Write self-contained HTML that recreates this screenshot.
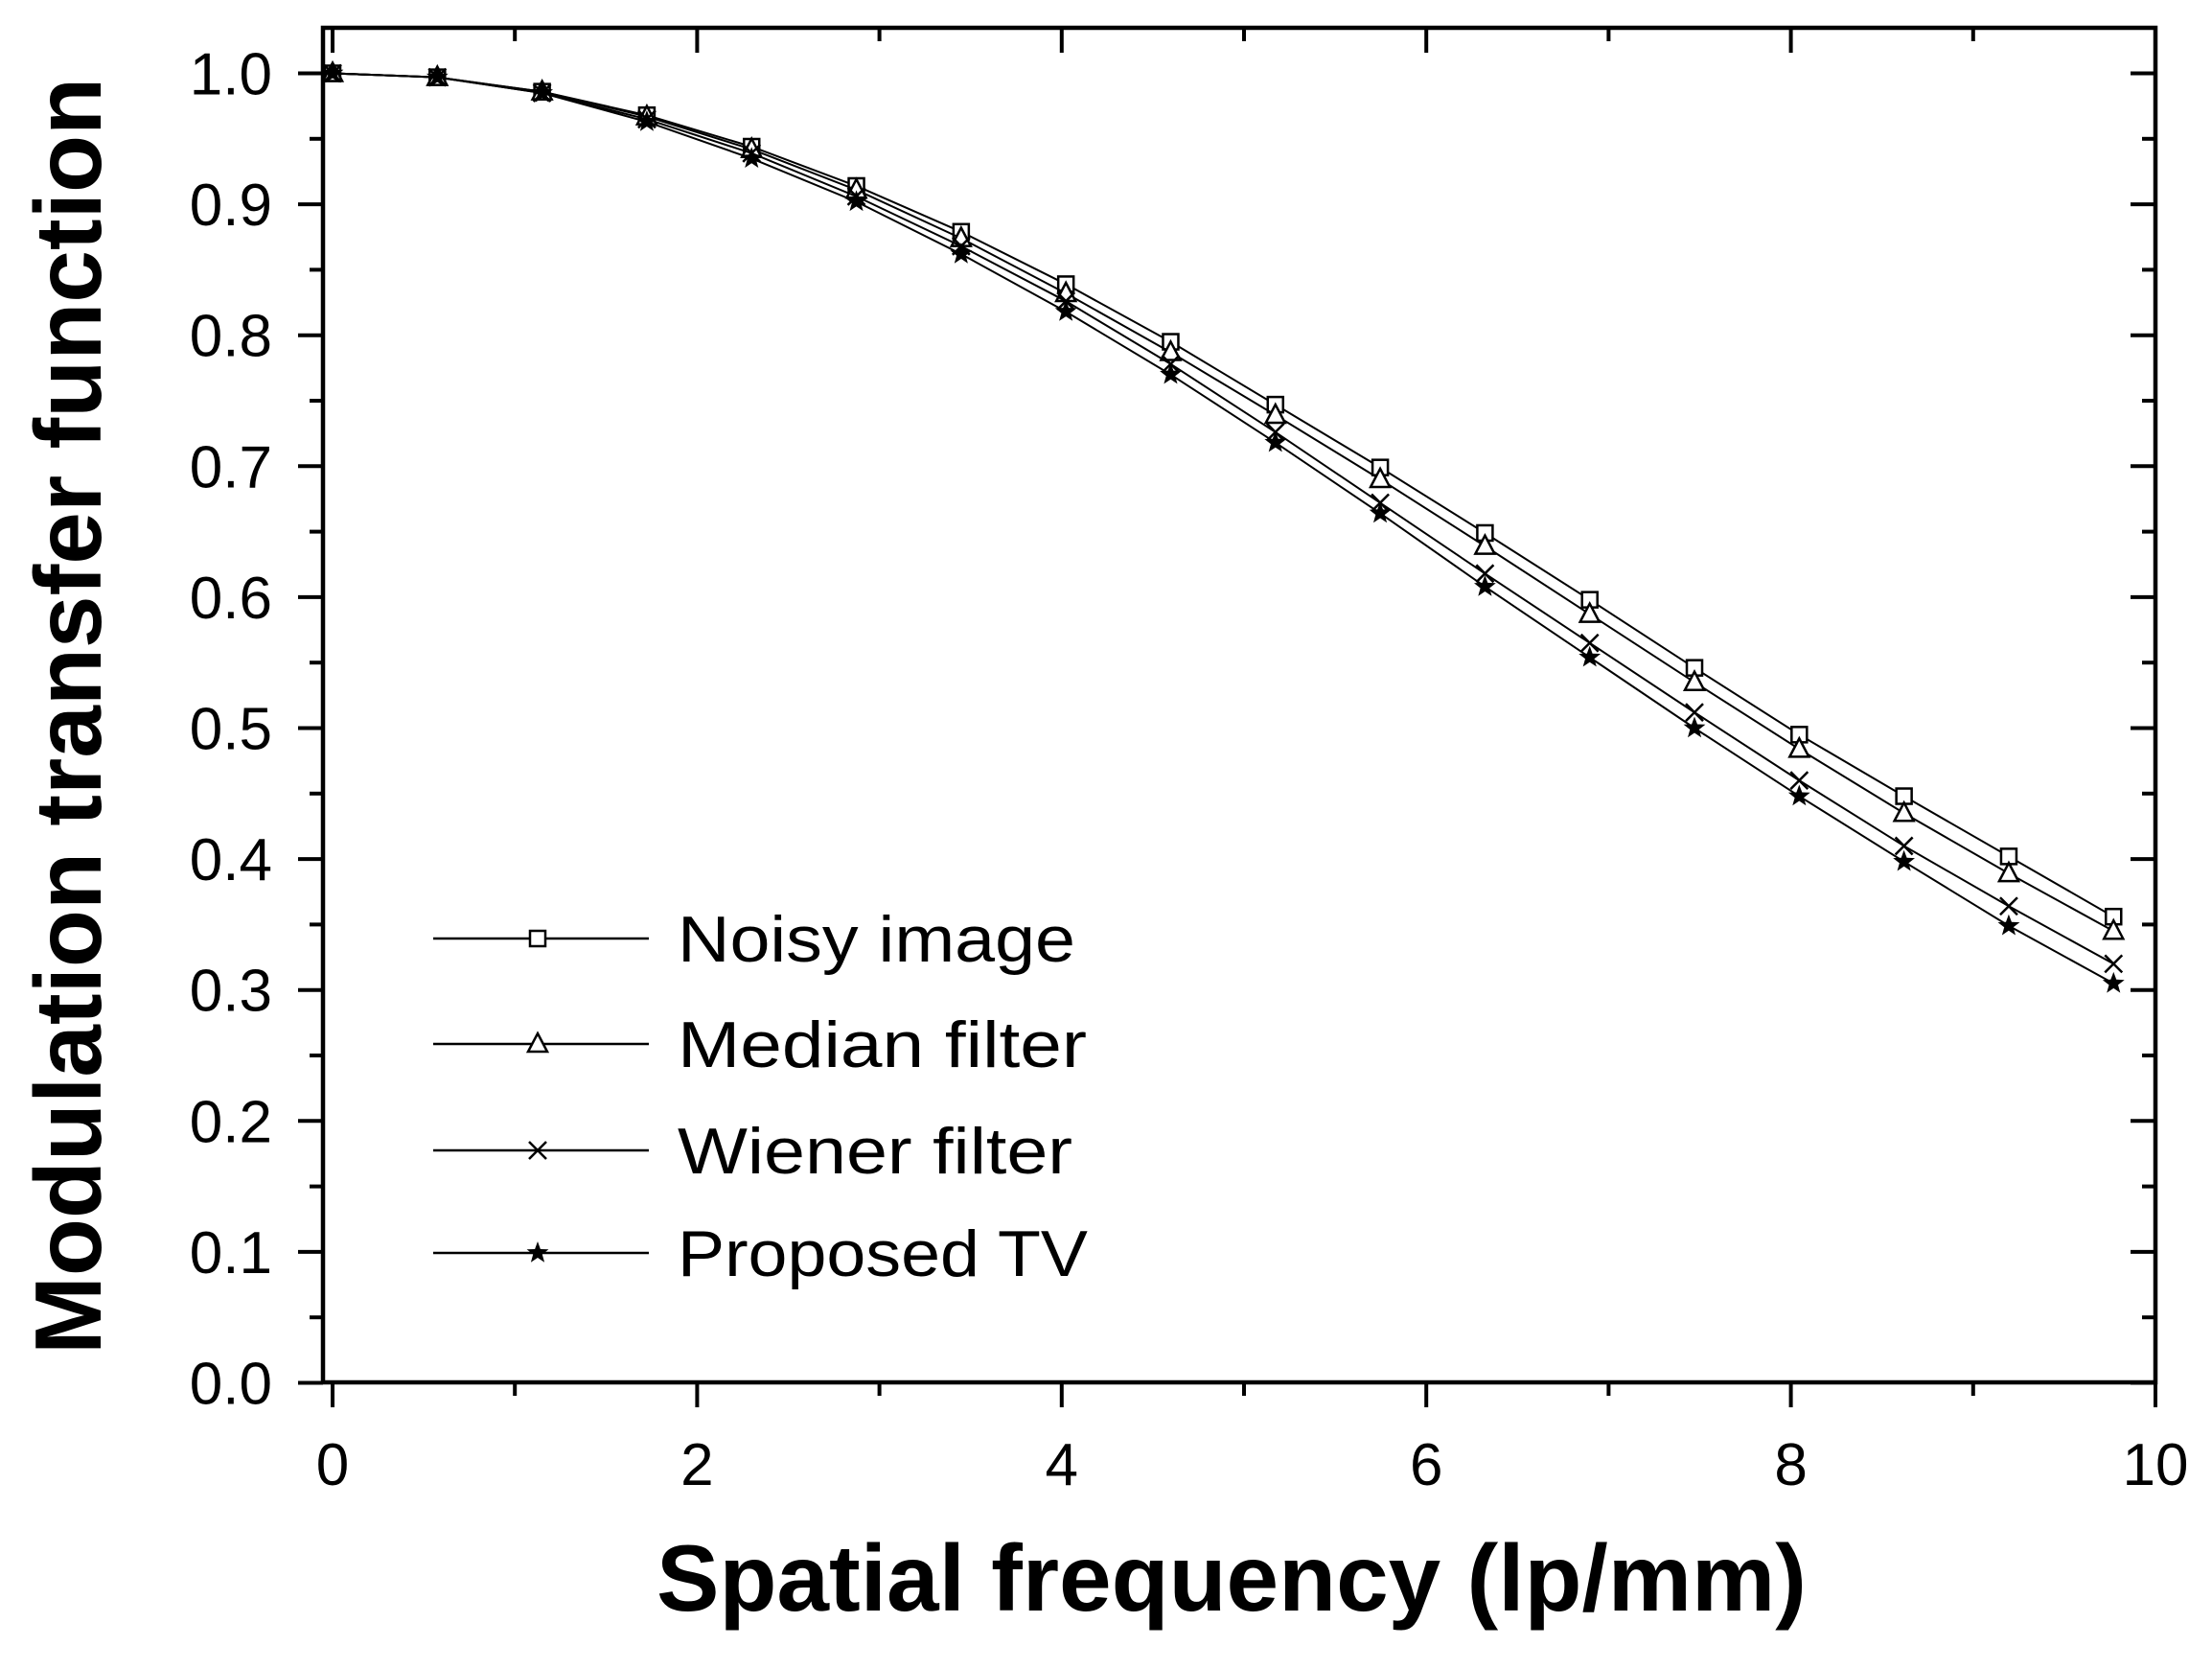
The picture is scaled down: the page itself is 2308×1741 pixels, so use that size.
<!DOCTYPE html>
<html><head><meta charset="utf-8"><style>html,body{margin:0;padding:0;background:#fff}svg{display:block}</style></head>
<body>
<svg id="s" width="2308" height="1741" xmlns="http://www.w3.org/2000/svg" font-family="Liberation Sans, DejaVu Sans, sans-serif">
<rect width="2308" height="1741" fill="#fff"/>
<g id="g"></g>
<text x="1285" y="1680" font-size="98" font-weight="bold" text-anchor="middle" textLength="1200" lengthAdjust="spacingAndGlyphs">Spatial frequency (lp/mm)</text>
<text transform="translate(105,747) rotate(-90)" font-size="98" font-weight="bold" text-anchor="middle" textLength="1332" lengthAdjust="spacingAndGlyphs">Modulation transfer function</text>
</svg>
<script>
var g=document.getElementById('g'),NS='http://www.w3.org/2000/svg',h='';
function X(v){return 347+v*190.2}function Y(v){return 1442.5-v*1366}
var L=337,R=2249,T=29,B=1442;
// ticks
for(var i=0;i<=10;i++){var x=X(i),M=i%2==0,l=M?26:14;
h+='<line x1="'+x+'" y1="'+B+'" x2="'+x+'" y2="'+(B+l)+'" stroke="#000" stroke-width="4"/>';
h+='<line x1="'+x+'" y1="'+T+'" x2="'+x+'" y2="'+(T+l)+'" stroke="#000" stroke-width="4"/>';
if(M)h+='<text x="'+x+'" y="1549" font-size="62" text-anchor="middle">'+i+'</text>';}
for(var j=0;j<=20;j++){var v=j*0.05,y=Y(v),M=j%2==0,l=M?26:14;
h+='<line x1="'+L+'" y1="'+y+'" x2="'+(L-l)+'" y2="'+y+'" stroke="#000" stroke-width="4"/>';
h+='<line x1="'+R+'" y1="'+y+'" x2="'+(R-l)+'" y2="'+y+'" stroke="#000" stroke-width="4"/>';
if(M)h+='<text x="284" y="'+(y+22)+'" font-size="62" text-anchor="end">'+v.toFixed(1)+'</text>';}
h+='<rect x="'+L+'" y="'+T+'" width="'+(R-L)+'" height="'+(B-T)+'" fill="none" stroke="#000" stroke-width="4.5"/>';
var d=[
[1,.997,.986,.968,.944,.914,.879,.839,.795,.747,.699,.649,.598,.546,.495,.448,.402,.356],
[1,.997,.986,.967,.942,.911,.874,.832,.787,.739,.690,.639,.587,.535,.484,.435,.389,.345],
[1,.997,.985,.965,.939,.906,.868,.826,.778,.726,.672,.618,.565,.512,.460,.410,.364,.320],
[1,.997,.985,.963,.935,.902,.862,.818,.770,.718,.664,.608,.554,.500,.448,.398,.349,.305]];
function mk(t,x,y){
if(t==0)return '<rect x="'+(x-8)+'" y="'+(y-8)+'" width="16" height="16" fill="#fff" stroke="#000" stroke-width="2.5"/>';
if(t==1)return '<polygon points="'+x+','+(y-11)+' '+(x+10)+','+(y+8)+' '+(x-10)+','+(y+8)+'" fill="#fff" stroke="#000" stroke-width="2.5"/>';
if(t==2)return '<path d="M'+(x-9)+' '+(y-9)+'L'+(x+9)+' '+(y+9)+'M'+(x-9)+' '+(y+9)+'L'+(x+9)+' '+(y-9)+'" stroke="#000" stroke-width="2.5"/>';
var p=[];for(var k=0;k<10;k++){var r=k%2?5:12,a=-Math.PI/2+k*Math.PI/5;p.push((x+r*Math.cos(a)).toFixed(1)+','+(y+r*Math.sin(a)).toFixed(1));}
return '<polygon points="'+p.join(' ')+'" fill="#000"/>';}
for(var s=0;s<4;s++){var pts=[];for(var k=0;k<18;k++)pts.push(X(k*9.77/17)+','+Y(d[s][k]));
h+='<polyline points="'+pts.join(' ')+'" fill="none" stroke="#000" stroke-width="2"/>';
for(var k=0;k<18;k++)h+=mk(s,X(k*9.77/17),Y(d[s][k]));}
var names=['Noisy image','Median filter','Wiener filter','Proposed TV'],ly=[979,1089,1200,1307],tw=[415,427,412,428];
for(var s=0;s<4;s++){h+='<line x1="452" y1="'+ly[s]+'" x2="677" y2="'+ly[s]+'" stroke="#000" stroke-width="2.5"/>'+mk(s,561,ly[s]);
h+='<text x="707" y="'+(ly[s]+24)+'" font-size="68" textLength="'+tw[s]+'" lengthAdjust="spacingAndGlyphs">'+names[s]+'</text>';}
g.innerHTML=h;
</script>
</body></html>
